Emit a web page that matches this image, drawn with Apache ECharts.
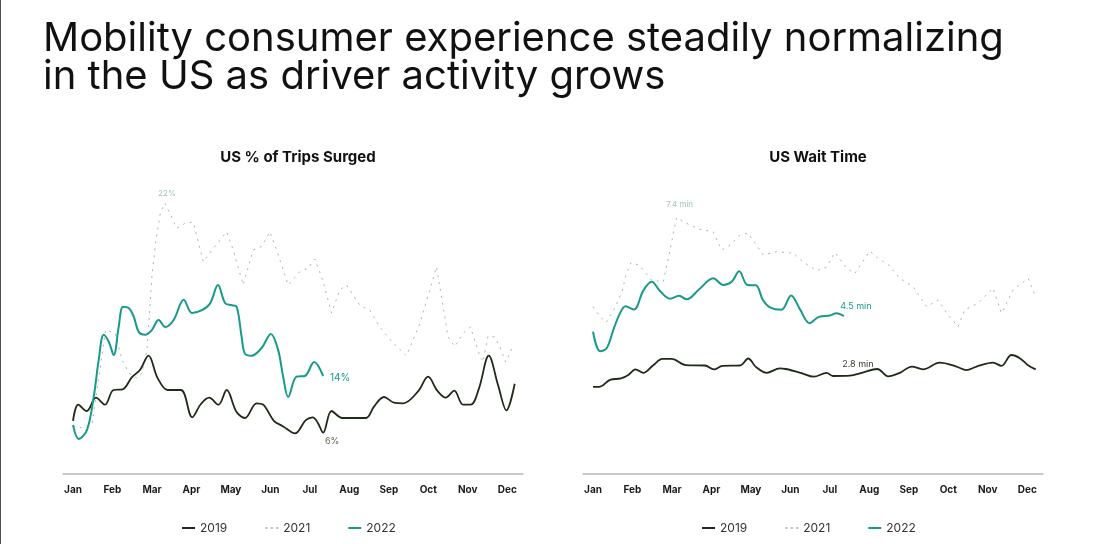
<!DOCTYPE html>
<html>
<head>
    <meta charset="utf-8">
    <title>Mobility consumer experience</title>
    <script src="https://cdn.jsdelivr.net/npm/echarts@6/dist/echarts.min.js"></script>
    <style>
        html, body { margin: 0; padding: 0; background: #fff; }
        #chart { width: 1108px; height: 544px; }
    </style>
</head>
<body>
<div id="chart"></div>
<script type="text/javascript">
    // month tick labels, placed at the week where each month starts
    var months = ['Jan', 'Feb', 'Mar', 'Apr', 'May', 'Jun', 'Jul', 'Aug', 'Sep', 'Oct', 'Nov', 'Dec'];
    var monthWeeks = [0, 4.33, 8.67, 13, 17.33, 21.67, 26, 30.33, 34.67, 39, 43.33, 47.67];

    // US % of trips surged  [week, %]
    var surge2019 = [[0,7.6],[0.57,9.9],[1.51,9.0],[2.52,10.9],[3.51,9.9],[4.44,12.0],[5.45,12.1],[6.45,13.8],
        [7.37,14.9],[8.28,16.9],[9.29,13.7],[10.39,12.0],[11.85,12.0],[13.09,8.1],[14.04,10.0],[14.95,10.9],
        [15.96,9.9],[16.87,12.0],[17.94,8.9],[18.87,8.0],[20.15,10.1],[20.88,9.9],[22.05,7.6],[23.07,6.8],
        [24.36,5.8],[25.56,7.7],[26.33,8.1],[26.88,7.3],[27.46,5.9],[28.38,9.0],[29.57,8.0],[32.15,8.0],
        [33.02,9.6],[34.14,11.0],[35.22,10.2],[36.24,10.1],[37.88,11.8],[38.98,13.9],[39.99,11.9],[40.92,10.9],
        [41.85,11.9],[42.82,9.9],[43.66,9.9],[44.56,12.2],[45.64,16.9],[46.66,12.7],[47.58,9.1],[48.49,12.9]];
    var surge2021 = [[0,6.8],[0.77,6.6],[2.08,7.1],[2.41,10.1],[2.96,14.9],[3.57,20.6],[4.64,20.1],[5.38,16.3],
        [6.14,14.4],[7.02,13.7],[7.57,14.4],[8.12,17.7],[8.67,28.4],[9.1,33.4],[9.6,37.4],[10.09,38.7],
        [10.64,37.2],[11.38,35.1],[12.29,35.8],[13.2,36.0],[14.3,30.3],[15.39,32.2],[16.86,34.6],[17.59,32.0],
        [18.68,27.0],[19.78,32.0],[20.7,32.5],[21.61,34.6],[22.35,32.0],[23.62,27.0],[24.9,28.9],[25.81,29.4],
        [26.55,30.7],[27.46,27.5],[28.38,23.0],[29.29,26.3],[30.03,27.0],[31.49,24.1],[32.58,23.4],[33.68,21.0],
        [35.14,18.7],[36.61,16.9],[38.07,21.5],[39.17,26.3],[39.9,29.6],[40.63,23.9],[41.17,19.6],[41.91,18.2],
        [42.82,20.1],[43.63,21.0],[44.58,17.2],[45.01,16.0],[45.56,19.7],[46.3,19.6],[46.85,18.2],[47.5,16.0],[48.31,18.3]];
    var surge2022 = [[0,7.0],[0.63,5.0],[1.54,6.3],[2.27,11.0],[2.82,16.3],[3.37,19.9],[3.92,18.9],[4.47,17.0],
        [5.01,21.0],[5.49,23.9],[6.11,23.7],[6.66,22.5],[7.21,20.3],[7.93,19.9],[8.67,20.6],[9.4,22.0],
        [10.13,21.0],[11.05,22.0],[12.15,24.9],[13.06,23.0],[14.15,23.4],[15.06,24.4],[15.91,27.0],[16.71,24.4],
        [17.44,24.1],[17.96,23.9],[18.51,19.6],[18.87,17.2],[19.61,16.9],[20.7,18.0],[21.72,20.0],[22.52,17.7],
        [23.07,13.9],[23.62,11.0],[24.54,13.9],[25.45,14.0],[26.47,16.0],[27.46,14.0]];

    // US wait time  [week, minutes]
    var wait2019 = [[0,2.49],[0.66,2.49],[1.87,2.69],[3.07,2.73],[3.87,2.83],[4.66,2.99],[5.52,2.89],[6.58,3.10],
        [7.62,3.29],[8.63,3.29],[10.2,3.11],[12.29,3.10],[13.27,2.99],[14.21,3.09],[16.13,3.10],[17.04,3.30],
        [17.88,3.06],[19.06,2.89],[20.52,3.02],[21.17,3.00],[22.82,2.89],[24.25,2.78],[25.64,2.89],[26.33,2.80],
        [28.2,2.81],[29.51,2.89],[31.21,3.00],[32.4,2.79],[33.68,2.89],[35.0,3.07],[36.24,2.99],[38.07,3.18],
        [39.9,3.07],[41.0,2.97],[42.1,3.07],[43.92,3.18],[44.84,3.09],[45.94,3.40],[46.85,3.31],[47.76,3.11],[48.6,2.99]];
    var wait2021 = [[0,4.78],[0.77,4.49],[1.43,4.33],[2.3,4.69],[3.18,5.2],[3.62,5.69],[4.17,6.04],[5.05,5.97],
        [6.44,5.54],[7.71,5.49],[8.45,6.4],[9.18,7.33],[10.28,7.16],[11.74,6.99],[13.2,6.92],[14.12,6.4],
        [15.03,6.54],[16.13,6.83],[17.04,6.88],[18.68,6.26],[20.15,6.35],[21.97,6.31],[23.07,6.06],[24.54,5.81],
        [25.64,5.91],[26.55,6.33],[27.83,5.88],[28.74,5.73],[30.39,6.37],[31.3,6.16],[32.47,5.97],[33.68,5.59],
        [35.14,5.35],[36.61,4.78],[37.88,4.97],[38.98,4.54],[40.08,4.21],[40.81,4.69],[42.27,4.88],[43.92,5.31],
        [44.84,4.59],[46.11,5.26],[47.76,5.59],[48.6,5.07]];
    var wait2022 = [[0,4.07],[0.77,3.51],[1.5,3.59],[2.3,4.17],[2.96,4.59],[3.57,4.79],[4.5,4.70],[5.52,5.24],
        [6.44,5.49],[7.35,5.23],[8.45,5.01],[9.44,5.09],[10.28,4.99],[11.63,5.27],[13.2,5.59],[14.3,5.40],
        [15.22,5.49],[16.05,5.79],[16.95,5.40],[17.88,5.39],[18.65,4.97],[19.42,4.76],[20.68,4.69],[21.74,5.10],
        [22.71,4.71],[23.77,4.31],[24.79,4.49],[26.0,4.53],[26.74,4.59],[27.54,4.51]];

    // callouts: [week, value, text]
    var surgeNotes2021 = [[10.09, 38.7, '22%']];
    var surgeNotes2022 = [[27.46, 14.0, '14%']];
    var surgeNotes2019 = [[27.46, 5.9, '6%']];
    var waitNotes2021 = [[9.18, 7.33, '7.4 min']];
    var waitNotes2022 = [[27.54, 4.51, '4.5 min']];
    var waitNotes2019 = [[28.2, 2.81, '2.8 min']];

    var C2019 = '#1f2a18', C2021 = '#a9b3b3', C2022 = '#179a8a';
    var FONT = 'Inter, "Noto Sans", sans-serif';
    // legend marks: short bar for solid years, a few dots for 2021
    var ICON_LINE = 'path://M0,0h13v2h-13z';
    var ICON_DOTS = 'path://M0,0h2v2h-2z M5.5,0h2v2h-2z M11,0h2v2h-2z';

    function notes(list, color, size, offset) {
        return {
            symbol: 'circle', symbolSize: 0, silent: true,
            itemStyle: { color: 'rgba(0,0,0,0)' },
            label: { show: true, color: color, fontSize: size, fontFamily: FONT, offset: offset,
                formatter: function (p) { return p.name; } },
            data: list.map(function (n) { return { name: n[2], coord: [n[0], n[1]] }; })
        };
    }

    function line(name, idx, data, color, width, dashed, smooth, mp) {
        return {
            name: name, type: 'line', xAxisIndex: idx, yAxisIndex: idx,
            data: data, symbol: 'none', smooth: smooth, z: dashed ? 1 : 3,
            lineStyle: { color: color, width: width, type: dashed ? [2, 5] : 'solid' },
            itemStyle: { color: color },
            markPoint: mp
        };
    }

    function xAx(idx) {
        return {
            type: 'value', gridIndex: idx, min: -1.1, max: 49.4,
            splitLine: { show: false },
            axisLine: { show: true, lineStyle: { color: '#b9b9b9', width: 1.5 } },
            axisTick: { show: false },
            axisLabel: {
                customValues: monthWeeks, margin: 11,
                color: '#1a1a1a', fontSize: 10, fontWeight: 'bold', fontFamily: FONT,
                formatter: function (v) {
                    var i = monthWeeks.indexOf(v);
                    return i >= 0 ? months[i] : '';
                }
            }
        };
    }

    function legend(left) {
        return {
            left: left, top: 517, itemWidth: 13, itemHeight: 2, itemGap: 38,
            textStyle: { color: '#333', fontSize: 12, fontFamily: FONT },
            data: [
                { name: '2019', icon: ICON_LINE },
                { name: '2021', icon: ICON_DOTS, itemStyle: { color: '#b8c2c2' } },
                { name: '2022', icon: ICON_LINE }
            ]
        };
    }

    var myChart = echarts.init(document.getElementById('chart'));
    myChart.setOption({
        animation: false,
        backgroundColor: '#fff',
        title: [
            { text: 'Mobility consumer experience steadily normalizing\nin the US as driver activity grows',
              left: 38, top: 15,
              textStyle: { fontSize: 40, fontWeight: 'normal', color: '#111', lineHeight: 38, fontFamily: FONT } },
            { text: 'US % of Trips Surged', left: 293, top: 145, textAlign: 'center',
              textStyle: { fontSize: 15, fontWeight: 'bold', color: '#111', fontFamily: FONT } },
            { text: 'US Wait Time', left: 813, top: 145, textAlign: 'center',
              textStyle: { fontSize: 15, fontWeight: 'bold', color: '#111', fontFamily: FONT } }
        ],
        graphic: [
            { type: 'rect', left: 0, top: 0, shape: { width: 1, height: 544 }, style: { fill: '#4a4e5e' } }
        ],
        legend: [legend(177), legend(697)],
        grid: [
            { left: 63, width: 460, top: 194, height: 280 },
            { left: 583, width: 460, top: 194, height: 280 }
        ],
        xAxis: [xAx(0), xAx(1)],
        yAxis: [
            { type: 'value', gridIndex: 0, min: 0, max: 40, show: false },
            { type: 'value', gridIndex: 1, min: 0, max: 8, show: false }
        ],
        series: [
            line('2019', 0, surge2019, C2019, 1.8, false, 0.35, notes(surgeNotes2019, '#666b55', 9, [9, 9])),
            line('2021', 0, surge2021, C2021, 1, true, false, notes(surgeNotes2021, '#a6c4be', 8, [2, -10])),
            line('2022', 0, surge2022, C2022, 2, false, 0.35, notes(surgeNotes2022, C2022, 10, [17, 2])),
            line('2019', 1, wait2019, C2019, 1.8, false, 0.35, notes(waitNotes2019, '#3a3a2c', 9, [8, -11])),
            line('2021', 1, wait2021, C2021, 1, true, false, notes(waitNotes2021, '#a6c4be', 8, [3, -13])),
            line('2022', 1, wait2022, C2022, 2, false, 0.35, notes(waitNotes2022, C2022, 9, [12, -10]))
        ]
    });
</script>
</body>
</html>
